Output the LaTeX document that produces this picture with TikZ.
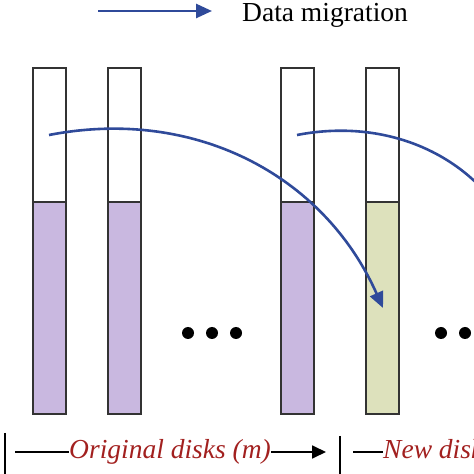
\documentclass[tikz,border=0pt]{standalone}
\usepackage{fontspec}
\setmainfont{Liberation Serif}
\usetikzlibrary{arrows.meta}
\definecolor{migblue}{HTML}{2F4A9A}
\definecolor{diskgray}{HTML}{333333}
\definecolor{oldfill}{HTML}{C9B8E0}
\definecolor{newfill}{HTML}{DDE1BC}
\definecolor{labred}{HTML}{A2201F}
\begin{document}
\begin{tikzpicture}[x=1pt,y=1pt,
  diskpart/.style={draw=diskgray, line width=2.3pt, minimum width=33pt, inner sep=0pt, outer sep=0pt, anchor=south west},
  emptypart/.style={diskpart, fill=white, minimum height=134pt},
  oldpart/.style={diskpart, fill=oldfill, minimum height=212pt},
  newpart/.style={diskpart, fill=newfill, minimum height=212pt},
  mig/.style={draw=migblue, line width=2.6pt, -{Triangle[length=16pt,width=14pt]}},
  dotc/.style={circle, fill=black, inner sep=0pt, minimum size=12pt},
  bigtext/.style={font=\fontsize{27.5}{30}\selectfont, inner sep=0pt},
  scale line/.style={draw=black, line width=1.8pt},
  sepbar/.style={draw=black, line width=2.2pt}]
\useasboundingbox (0,0) rectangle (474,474);
\clip (0,0) rectangle (474,474);
% legend
\coordinate (lgA) at (98,463);
\coordinate (lgB) at (212,463);
\draw[mig] (lgA) -- (lgB);
\node[bigtext, anchor=base west] (lgT) at (242,452.5) {Data migration};
% disks
\foreach \n/\x/\st in {1/33/oldpart, 2/108/oldpart, 3/281/oldpart, 4/366/newpart}{
  \node[\st] (d\n low) at (\x,60) {};
  \node[emptypart] (d\n up) at (\x,272) {};
}
% dots
\node[dotc] (da1) at (188,141) {};
\node[dotc] (da2) at (212,141) {};
\node[dotc] (da3) at (236,141) {};
\node[dotc] (db1) at (441,141) {};
\node[dotc] (db2) at (465,141) {};
\node[dotc] (db3) at (489,141) {};
% migrations
\coordinate (m1s) at (49,339);
\coordinate (m1e) at (383,166);
\draw[mig] (m1s) to[out=11,in=114] (m1e);
\coordinate (m2s) at (297,339);
\coordinate (m2e) at (520,224);
\draw[mig] (m2s) to[out=11,in=114] (m2e);
% bottom scale
\coordinate (bar1t) at (5,41);
\coordinate (bar1b) at (5,0);
\draw[sepbar] (bar1t) -- (bar1b);
\coordinate (sc1s) at (15,22);
\node[bigtext, text=labred, anchor=base west, font=\fontsize{27.5}{30}\selectfont\itshape] (orig) at (69,15) {Original disks (m)};
\coordinate (sc1e) at (326,22);
\draw[scale line] (sc1s) -- (sc1s -| orig.west);
\draw[scale line, -{Triangle[length=14pt,width=13pt]}] (sc1e -| orig.east) -- (sc1e);
\coordinate (bar2t) at (340,38);
\coordinate (bar2b) at (340,0);
\draw[sepbar] (bar2t) -- (bar2b);
\coordinate (sc2s) at (353,22);
\node[bigtext, text=labred, anchor=base west, font=\fontsize{27.5}{30}\selectfont\itshape] (newl) at (383,15) {New disks (n)};
\draw[scale line] (sc2s) -- (sc2s -| newl.west);
\end{tikzpicture}
\end{document}
